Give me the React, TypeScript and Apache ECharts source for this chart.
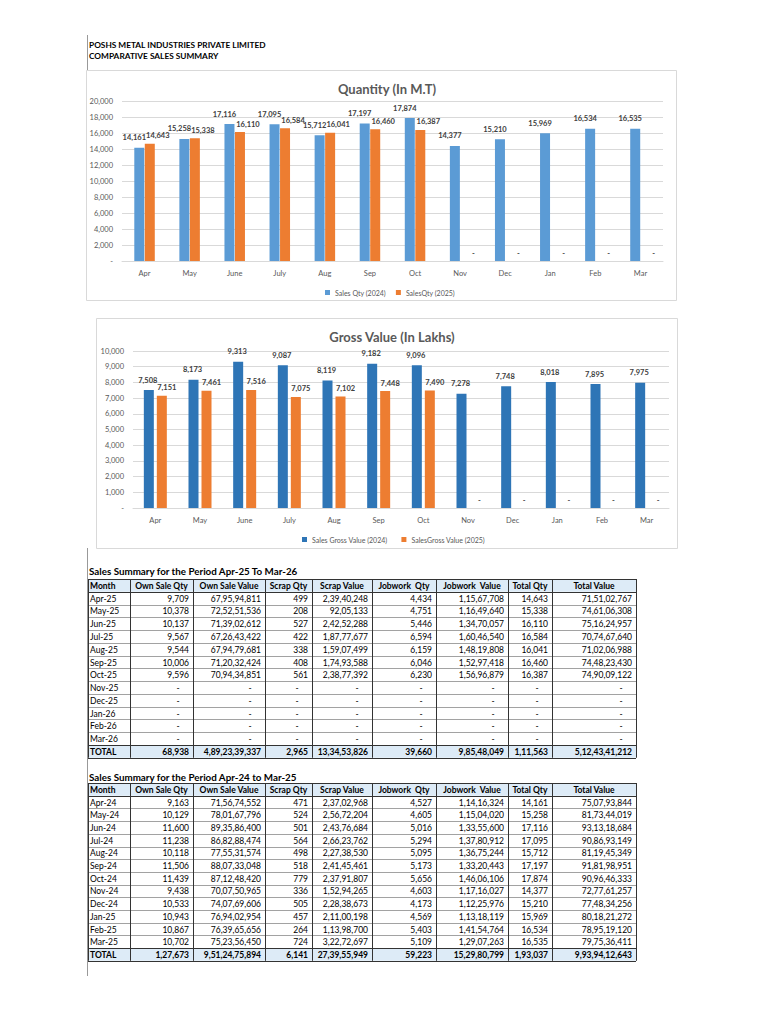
import React, { useEffect, useRef } from "react";
import * as echarts from "echarts";

const months = ["Apr", "May", "June", "July", "Aug", "Sep", "Oct", "Nov", "Dec", "Jan", "Feb", "Mar"];
const qty2024 = [14161, 15258, 17116, 17095, 15712, 17197, 17874, 14377, 15210, 15969, 16534, 16535];
const qty2025 = [14643, 15338, 16110, 16584, 16041, 16460, 16387, 0, 0, 0, 0, 0];
const gross2024 = [7508, 8173, 9313, 9087, 8119, 9182, 9096, 7278, 7748, 8018, 7895, 7975];
const gross2025 = [7151, 7461, 7516, 7075, 7102, 7448, 7490, 0, 0, 0, 0, 0];

const headers = ["Month", "Own Sale Qty", "Own Sale Value", "Scrap Qty", "Scrap Value", "Jobwork  Qty", "Jobwork  Value", "Total Qty", "Total Value"];

const months1 = ["Apr-25", "May-25", "Jun-25", "Jul-25", "Aug-25", "Sep-25", "Oct-25", "Nov-25", "Dec-25", "Jan-26", "Feb-26", "Mar-26"];
const ownQty1 = [9709, 10378, 10137, 9567, 9544, 10006, 9596, null, null, null, null, null];
const ownVal1 = [679594811, 725251536, 713902612, 672643422, 679479681, 712032424, 709434851, null, null, null, null, null];
const scrapQty1 = [499, 208, 527, 422, 338, 408, 561, null, null, null, null, null];
const scrapVal1 = [23940248, 9205133, 24252288, 18777677, 15907499, 17493588, 23877392, null, null, null, null, null];
const jobQty1 = [4434, 4751, 5446, 6594, 6159, 6046, 6230, null, null, null, null, null];
const jobVal1 = [11567708, 11649640, 13470057, 16046540, 14819808, 15297418, 15696879, null, null, null, null, null];
const totQty1 = [14643, 15338, 16110, 16584, 16041, 16460, 16387, null, null, null, null, null];
const totVal1 = [715102767, 746106308, 751624957, 707467640, 710206988, 744823430, 749009122, null, null, null, null, null];
const total1 = [68938, 4892339337, 2965, 133453826, 39660, 98548049, 111563, 5124341212];

const months2 = ["Apr-24", "May-24", "Jun-24", "Jul-24", "Aug-24", "Sep-24", "Oct-24", "Nov-24", "Dec-24", "Jan-25", "Feb-25", "Mar-25"];
const ownQty2 = [9163, 10129, 11600, 11238, 10118, 11506, 11439, 9438, 10533, 10943, 10867, 10702];
const ownVal2 = [715674552, 780167796, 893586400, 868288474, 775531574, 880733048, 871248420, 700750965, 740769606, 769402954, 763965656, 752356450];
const scrapQty2 = [471, 524, 501, 564, 498, 518, 779, 336, 505, 457, 264, 724];
const scrapVal2 = [23702968, 25672204, 24376684, 26623762, 22738530, 24145461, 23791807, 15294265, 22838673, 21100198, 11398700, 32272697];
const jobQty2 = [4527, 4605, 5016, 5294, 5095, 5173, 5656, 4603, 4173, 4569, 5403, 5109];
const jobVal2 = [11416324, 11504020, 13355600, 13780912, 13675244, 13320443, 14606106, 11716027, 11225976, 11318119, 14154764, 12907263];
const totQty2 = [14161, 15258, 17116, 17095, 15712, 17197, 17874, 14377, 15210, 15969, 16534, 16535];
const totVal2 = [750793844, 817344019, 931318684, 908693149, 811945349, 918198951, 909646333, 727761257, 774834256, 801821272, 789519120, 797536411];
const total2 = [127673, 9512475894, 6141, 273955949, 59223, 152980799, 193037, 9939412643];

const FONT = "Lato, 'Open Sans', sans-serif";

function fmtUS(n: number) {
  return n.toLocaleString("en-US");
}
function fmtIN(n: number | null) {
  if (n === null || n === undefined) return "-";
  const s = String(n);
  if (s.length <= 3) return s;
  const last3 = s.slice(-3);
  let rest = s.slice(0, -3);
  const parts: string[] = [];
  while (rest.length > 2) {
    parts.unshift(rest.slice(-2));
    rest = rest.slice(0, -2);
  }
  if (rest) parts.unshift(rest);
  return parts.join(",") + "," + last3;
}

const cols = [88, 130, 193, 265, 312, 372, 436, 508, 552, 636];

function txt(x: number, y: number, text: string, font: string, align: string) {
  return {
    type: "text", x, y,
    style: { text, font, fill: "#000", textAlign: align, align, textVerticalAlign: "middle", verticalAlign: "middle" },
  };
}

function buildTable(title: string, titleY: number, top: number, rowH: number, mon: string[], data: (number | null)[][], totals: number[]) {
  const els: any[] = [];
  const nRows = 14;
  const bottom = top + nRows * rowH;
  els.push(txt(cols[0] + 1, titleY, title, `bold 9.8px ${FONT}`, "left"));
  els.push({ type: "rect", shape: { x: cols[0], y: top, width: cols[9] - cols[0], height: rowH }, style: { fill: "#DDEBF7" } });
  els.push({ type: "rect", shape: { x: cols[0], y: top + 13 * rowH, width: cols[9] - cols[0], height: rowH }, style: { fill: "#DDEBF7" } });
  for (let r = 0; r <= nRows; r++) {
    const y = Math.round(top + r * rowH) + 0.5;
    const strong = r === 0 || r === 1 || r === 13 || r === 14;
    els.push({ type: "line", shape: { x1: cols[0], y1: y, x2: cols[9], y2: y }, style: { stroke: strong ? "#333" : "#8a8a8a", lineWidth: strong ? 1.2 : 0.8 } });
  }
  for (let c = 0; c < cols.length; c++) {
    const x = cols[c] + 0.5;
    els.push({ type: "line", shape: { x1: x, y1: top, x2: x, y2: bottom }, style: { stroke: "#333", lineWidth: 1 } });
  }
  headers.forEach((h, c) => {
    const left = c === 0;
    els.push(txt(left ? cols[c] + 2 : (cols[c] + cols[c + 1]) / 2, top + rowH / 2 + 0.5, h, `bold 8.5px ${FONT}`, left ? "left" : "center"));
  });
  for (let r = 0; r < 12; r++) {
    const y = top + (r + 1) * rowH + rowH / 2 + 0.5;
    els.push(txt(cols[0] + 2, y, mon[r], `8.5px ${FONT}`, "left"));
    for (let c = 0; c < 8; c++) {
      const v = data[c][r];
      const dash = v === null || v === undefined;
      els.push(txt(dash ? cols[c + 2] - 15 : cols[c + 2] - 4, y, fmtIN(v), `8.5px ${FONT}`, dash ? "center" : "right"));
    }
  }
  const ty = top + 13 * rowH + rowH / 2 + 0.5;
  els.push(txt(cols[0] + 2, ty, "TOTAL", `bold 8.5px ${FONT}`, "left"));
  totals.forEach((v, c) => {
    els.push(txt(cols[c + 2] - 4, ty, fmtIN(v), `bold 8.5px ${FONT}`, "right"));
  });
  return els;
}

export default function App() {
  const ref = useRef<HTMLDivElement>(null);
  useEffect(() => {
    if (!ref.current) return;
    const chart = echarts.init(ref.current, undefined, { renderer: "svg" });
    const labelFmt = (p: any) => (p.value === 0 ? "-" : fmtUS(p.value));
    const mkLabel = (dx: number, dy: number) => ({
      show: true, position: "top", distance: 4, offset: [dx, dy], formatter: labelFmt,
      fontFamily: FONT, fontSize: 7.5, fontWeight: "bold", color: "#404040",
    });
    const axisLbl = { fontFamily: FONT, fontSize: 7.5, color: "#595959" };

    const graphics: any[] = [
      { type: "line", shape: { x1: 87.5, y1: 35, x2: 87.5, y2: 70 }, style: { stroke: "#999", lineWidth: 1 } },
      { type: "line", shape: { x1: 87.5, y1: 548, x2: 87.5, y2: 976 }, style: { stroke: "#999", lineWidth: 1 } },
      { type: "rect", z: -10, shape: { x: 86.5, y: 70.5, width: 590, height: 230 }, style: { fill: "#fff", stroke: "#D9D9D9", lineWidth: 1 } },
      { type: "rect", z: -10, shape: { x: 96.5, y: 318.5, width: 581, height: 230 }, style: { fill: "#fff", stroke: "#D9D9D9", lineWidth: 1 } },
      txt(89, 45, "POSHS METAL INDUSTRIES PRIVATE LIMITED", `bold 8.3px ${FONT}`, "left"),
      txt(89, 56, "COMPARATIVE SALES SUMMARY", `bold 8.3px ${FONT}`, "left"),
      ...buildTable("Sales Summary for the Period Apr-25 To Mar-26", 571, 579, 12.77, months1,
        [ownQty1, ownVal1, scrapQty1, scrapVal1, jobQty1, jobVal1, totQty1, totVal1], total1),
      ...buildTable("Sales Summary for the Period Apr-24 to Mar-25", 777, 783, 12.7, months2,
        [ownQty2, ownVal2, scrapQty2, scrapVal2, jobQty2, jobVal2, totQty2, totVal2], total2),
    ];

    chart.setOption({
      animation: false,
      backgroundColor: "#fff",
      title: [
        { text: "Quantity (In M.T)", left: 382, top: 77, textAlign: "center", textStyle: { fontFamily: FONT, fontSize: 13, fontWeight: "bold", color: "#595959" } },
        { text: "Gross Value (In Lakhs)", left: 387, top: 325, textAlign: "center", textStyle: { fontFamily: FONT, fontSize: 13, fontWeight: "bold", color: "#595959" } },
      ],
      legend: [
        {
          data: ["Sales Qty (2024)", "SalesQty (2025)"], left: 320, top: 284, itemWidth: 5, itemHeight: 5, itemGap: 10,
          icon: "rect", textStyle: { fontFamily: FONT, fontSize: 7, color: "#595959" },
        },
        {
          data: ["Sales Gross Value (2024)", "SalesGross Value (2025)"], left: 297, top: 531, itemWidth: 5, itemHeight: 5, itemGap: 14,
          icon: "rect", textStyle: { fontFamily: FONT, fontSize: 7, color: "#595959" },
        },
      ],
      grid: [
        { left: 122, right: 105, top: 101, height: 160, containLabel: false },
        { left: 133, right: 99, top: 351, height: 157, containLabel: false },
      ],
      xAxis: [
        { type: "category", gridIndex: 0, data: months, axisTick: { show: false }, axisLine: { lineStyle: { color: "#D9D9D9" } }, axisLabel: { ...axisLbl, margin: 8 } },
        { type: "category", gridIndex: 1, data: months, axisTick: { show: false }, axisLine: { lineStyle: { color: "#D9D9D9" } }, axisLabel: { ...axisLbl, margin: 8 } },
      ],
      yAxis: [
        {
          type: "value", gridIndex: 0, min: 0, max: 20000, interval: 2000,
          axisLine: { show: false }, axisTick: { show: false }, splitLine: { lineStyle: { color: "#D9D9D9" } },
          axisLabel: { ...axisLbl, margin: 9, formatter: (v: number) => (v === 0 ? "-" : fmtUS(v)) },
        },
        {
          type: "value", gridIndex: 1, min: 0, max: 10000, interval: 1000,
          axisLine: { show: false }, axisTick: { show: false }, splitLine: { lineStyle: { color: "#D9D9D9" } },
          axisLabel: { ...axisLbl, margin: 9, formatter: (v: number) => (v === 0 ? "-" : fmtUS(v)) },
        },
      ],
      series: [
        { name: "Sales Qty (2024)", type: "bar", xAxisIndex: 0, yAxisIndex: 0, data: qty2024, barWidth: 10, barGap: "5%", itemStyle: { color: "#5B9BD5" }, label: mkLabel(-5, -2) },
        { name: "SalesQty (2025)", type: "bar", xAxisIndex: 0, yAxisIndex: 0, data: qty2025, barWidth: 10, barGap: "5%", itemStyle: { color: "#ED7D31" }, label: mkLabel(8, 0) },
        { name: "Sales Gross Value (2024)", type: "bar", xAxisIndex: 1, yAxisIndex: 1, data: gross2024, barWidth: 10, barGap: "30%", itemStyle: { color: "#2E75B6" }, label: mkLabel(-1, -2) },
        { name: "SalesGross Value (2025)", type: "bar", xAxisIndex: 1, yAxisIndex: 1, data: gross2025, barWidth: 10, barGap: "30%", itemStyle: { color: "#ED7D31" }, label: mkLabel(5, 0) },
      ],
      graphic: graphics,
    });
    return () => chart.dispose();
  }, []);
  return <div ref={ref} style={{ position: "absolute", left: 0, top: 0, width: 768, height: 1024 }} />;
}
